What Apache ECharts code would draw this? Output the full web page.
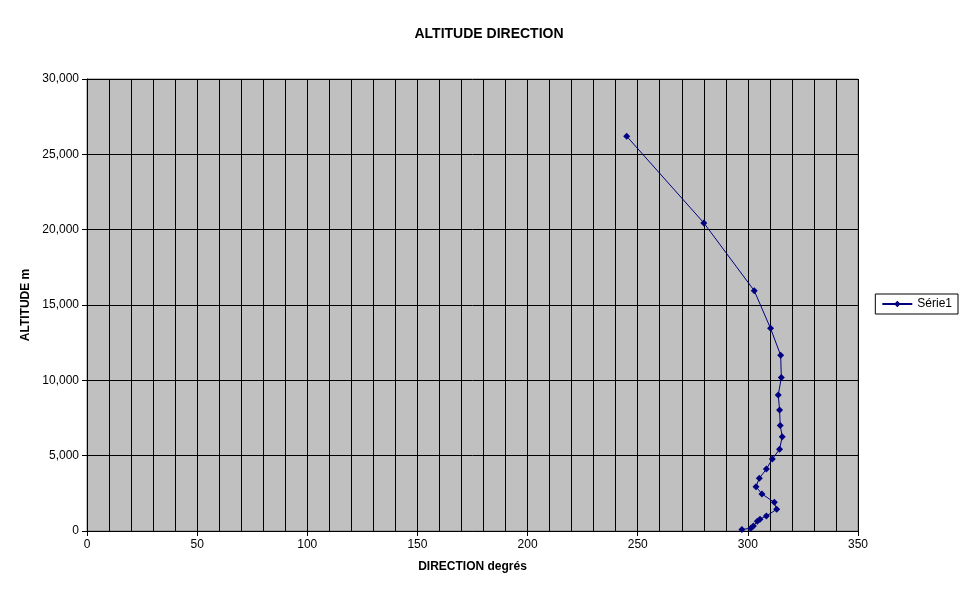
<!DOCTYPE html>
<html><head><meta charset="utf-8">
<script src="https://cdn.jsdelivr.net/npm/echarts@6/dist/echarts.min.js"></script>
<style>body{margin:0;background:#fff}#c{width:968px;height:602px}</style>
</head><body><div id="c"></div>
<script>
var direction = [297.3,301.3,302.5,304.3,305.5,308.4,313.1,312,306.4,303.7,305.2,308.4,311.1,314.4,315.6,314.7,314.4,313.8,315.2,314.9,310.3,302.9,280,245];
var altitude = [100,180,330,640,780,1000,1440,1900,2460,2940,3500,4110,4780,5420,6260,7010,8030,9030,10180,11660,13450,15950,20450,26200];

var pts = [];
for(var i=0;i<direction.length;i++){ pts.push([direction[i],altitude[i]]); }

var chart = echarts.init(document.getElementById("c"));
var txt = {fontFamily:'Arial, Liberation Sans',color:'#000',fontSize:12};
chart.setOption({
	animation:false,
	title:{text:'ALTITUDE DIRECTION',left:484,top:22,textAlign:'center',textStyle:{fontFamily:'Arial, Liberation Sans',fontSize:14,fontWeight:'bold',color:'#000'}},
	grid:{left:87,right:110,top:79,bottom:71,backgroundColor:'#c0c0c0',show:true,borderColor:'#808080',borderWidth:1},
	legend:{right:10,top:294,orient:'vertical',data:['Série1'],itemWidth:30,itemHeight:8,borderColor:'#000',borderWidth:1,borderRadius:0,padding:[4,6],textStyle:txt},
	xAxis:{type:'value',min:0,max:350,interval:50,name:'DIRECTION degrés',nameLocation:'middle',nameGap:30,
		nameTextStyle:{fontFamily:'Arial, Liberation Sans',fontWeight:'bold',fontSize:12,color:'#000'},
		axisLine:{lineStyle:{color:'#000'}},axisTick:{show:true,lineStyle:{color:'#000'}},axisLabel:txt,
		splitLine:{show:true,lineStyle:{color:'#000'}},minorTick:{show:false},
		minorSplitLine:{show:true,lineStyle:{color:'#000'}}},
	yAxis:{type:'value',min:0,max:30000,interval:5000,name:'ALTITUDE m',nameLocation:'middle',nameGap:52,
		nameTextStyle:{fontFamily:'Arial, Liberation Sans',fontWeight:'bold',fontSize:12,color:'#000'},
		axisLine:{show:true,lineStyle:{color:'#000'}},axisTick:{show:true,lineStyle:{color:'#000'}},axisLabel:txt,
		splitLine:{show:true,lineStyle:{color:'#000'}}},
	series:[{name:'Série1',type:'line',data:pts,symbol:'diamond',symbolSize:7,
		itemStyle:{color:'#000080'},lineStyle:{color:'#000080',width:1}}]
});
</script></body></html>
